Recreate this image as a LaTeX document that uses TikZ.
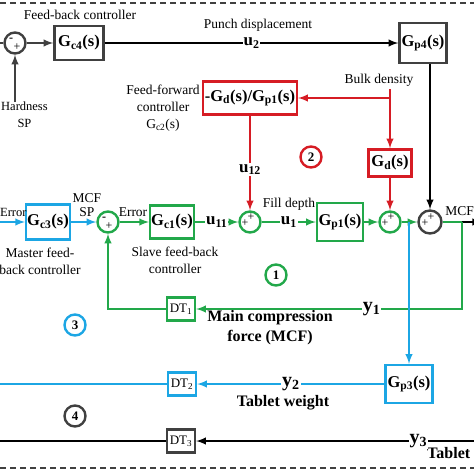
\documentclass[tikz,border=0pt]{standalone}
\usepackage{fontspec}
\setmainfont{Liberation Serif}
\definecolor{fbgreen}{RGB}{34,168,74}
\definecolor{ffred}{RGB}{214,28,36}
\definecolor{wtblue}{RGB}{28,166,228}
\definecolor{dkgray}{RGB}{64,64,64}
\tikzset{
  box/.style = {draw, line width = 2.4pt, inner sep = 1pt, font = \fontsize{16.5}{18}\selectfont\bfseries},
  dtbox/.style = {draw, line width = 2.4pt, minimum width = 28pt, minimum height = 23pt, inner sep = 1pt, font = \fontsize{13}{15}\selectfont},
  sumj/.style = {circle, draw, line width = 2.4pt, minimum size = 21pt, inner sep = 0pt},
  sgn/.style = {inner sep = 0pt, font = \fontsize{12}{12}\selectfont},
  lbl/.style = {align = center, inner sep = 0pt, font = \fontsize{13.5}{17}\selectfont},
  blbl/.style = {align = center, inner sep = 0pt, font = \fontsize{16}{20}\selectfont\bfseries},
  sig/.style = {fill = white, inner sep = 1pt, text = black, font = \fontsize{17}{19}\selectfont\bfseries},
  bigsig/.style = {sig, font = \fontsize{20}{22}\selectfont\bfseries},
  loopno/.style = {circle, draw, line width = 2.4pt, minimum size = 21pt, inner sep = 0pt, text = black, font = \fontsize{13}{13}\selectfont\bfseries},
  flow/.style = {line width = 2.3pt, -latex},
  wire/.style = {line width = 2.3pt}
}
\begin{document}
\begin{tikzpicture}[x = 1pt, y = -1pt]
  \clip (0, 0) rectangle (474, 474);
  \def\rowtop{43}
  \def\rowmain{222}
  \def\rowfb{309}
  \def\rowwt{384}
  \def\rowhd{441}
  % borders
  \foreach \yy in {3, 468}
    \draw[dkgray, line width = 2pt, dash pattern = on 6pt off 4pt] (0, \yy)--(474, \yy);

  % loop 4: tablet hardness
  \node[sumj, draw = dkgray] (s4) at (15, \rowtop) {};
  \node[box, draw = dkgray, minimum width = 49pt, minimum height = 34pt] (gc4) at (79, \rowtop) {G\textsubscript{c4}(s)};
  \node[box, draw = dkgray, minimum width = 47pt, minimum height = 40pt] (gp4) at (423, \rowtop) {G\textsubscript{p4}(s)};
  \node[lbl] (fbtxt) at (80, 15) {Feed-back controller};
  \node[lbl] (punchtxt) at (258, 25) {Punch displacement};
  \node[lbl, anchor = north west, font = \fontsize{12.5}{17}\selectfont] (hsptxt) at (1, 102) {Hardness\\SP};
  \coordinate (hin) at (0, \rowtop);
  \draw[wire, dkgray] (hin)--(s4);
  \draw[flow, dkgray] (s4 |- hsptxt.north)--(s4);
  \draw[flow, dkgray] (s4)--(gc4);
  \draw[flow] (gc4)--(gp4) node[sig, pos = .5] {u\textsubscript{2}};
  \node[sgn] at ([xshift = -4pt, yshift = 3pt]s4.center) {\bfseries -};
  \node[sgn] at ([xshift = 2pt, yshift = -4pt]s4.center) {+};

  % loop 2: feed-forward
  \node[box, draw = ffred, minimum width = 94pt, minimum height = 33pt] (gff) at (250, 98) {-G\textsubscript{d}(s)/G\textsubscript{p1}(s)};
  \node[box, draw = ffred, minimum width = 43pt, minimum height = 27pt] (gd) at (390, 163) {G\textsubscript{d}(s)};
  \node[lbl] (fftxt) at (163, 108) {Feed-forward\\controller\\G\textsubscript{c2}(s)};
  \node[lbl] (bulktxt) at (379, 80) {Bulk density};
  \coordinate (bulk) at (390, 89);
  \node[loopno, draw = ffred] (n2) at (311, 157) {2};

  % main row
  \node[box, draw = wtblue, minimum width = 41pt, minimum height = 35pt] (gc3) at (48, \rowmain) {G\textsubscript{c3}(s)};
  \node[sumj, draw = fbgreen] (s0) at (108, \rowmain) {};
  \node[box, draw = fbgreen, minimum width = 43pt, minimum height = 33pt] (gc1) at (172, \rowmain) {G\textsubscript{c1}(s)};
  \node[sumj, draw = fbgreen] (s1) at (250, \rowmain) {};
  \node[box, draw = fbgreen, minimum width = 46pt, minimum height = 38pt] (gp1) at (340, \rowmain) {G\textsubscript{p1}(s)};
  \node[sumj, draw = fbgreen] (s2) at (390, \rowmain) {};
  \node[sumj, draw = dkgray, minimum size = 23pt] (s5) at (430, \rowmain) {};
  \coordinate (errin) at (0, \rowmain);
  \coordinate (wtap) at (409, \rowmain);
  \coordinate (tap) at (462, \rowmain);
  \coordinate (mcfout) at (482, \rowmain);
  \node[lbl, anchor = west, font = \fontsize{12.5}{14}\selectfont] (err1) at (0, 212) {Error};
  \node[lbl, font = \fontsize{13.5}{14}\selectfont] (mcfsp) at (87, 205) {MCF\\SP};
  \node[lbl] (err2) at (133, 212) {Error};
  \node[lbl] (filltxt) at (289, 204) {Fill depth};
  \node[lbl, anchor = east] (mcftxt) at (474, 211) {MCF};
  \node[lbl] (mastertxt) at (40, 261) {Master feed-\\back controller};
  \node[lbl] (slavetxt) at (175, 260) {Slave feed-back\\controller};

  \draw[flow, ffred] (bulk)--(gd);
  \draw[flow, ffred] (bulk |- gff)--(gff);
  \draw[flow, ffred] (gd)--(s2);
  \draw[flow, ffred] (gff)--(s1) node[sig, pos = .57] {u\textsubscript{12}};

  \draw[flow, wtblue] (errin)--(gc3);
  \draw[flow, wtblue] (gc3)--(s0);
  \draw[flow, fbgreen] (s0)--(gc1);
  \draw[flow, fbgreen] (gc1)--(s1) node[sig, pos = .5] {u\textsubscript{11}};
  \draw[flow, fbgreen] (s1)--(gp1) node[sig, pos = .5] {u\textsubscript{1}};
  \draw[flow, fbgreen] (gp1)--(s2);
  \draw[flow, fbgreen] (s2)--(s5);
  \draw[wire, fbgreen] (s5)--(tap);
  \draw[flow] (tap)--(mcfout);
  \draw[flow] (gp4.south -| s5)--(s5);
  \foreach \s in {s1, s2, s5}{
    \node[sgn] at ([xshift = 1pt, yshift = 5pt]\s.center) {+};
    \node[sgn] at ([xshift = -5pt, yshift = -1pt]\s.center) {+};
  }
  \node[sgn] at ([xshift = -4pt, yshift = 3pt]s0.center) {\bfseries -};
  \node[sgn] at ([xshift = 1pt, yshift = -4pt]s0.center) {+};

  % loop 1: main compression force
  \node[dtbox, draw = fbgreen] (dt1) at (181, \rowfb) {DT\textsubscript{1}};
  \node[loopno, draw = fbgreen] (n1) at (276, 275) {1};
  \node[blbl] (mcfname) at (270, 328) {Main compression\\force (MCF)};
  \draw[flow, fbgreen] (tap) |- (dt1) node[bigsig, pos = .67] {y\textsubscript{1}};
  \draw[flow, fbgreen] (dt1) -| (s0);

  % loop 3: tablet weight
  \node[box, draw = wtblue, minimum width = 47pt, minimum height = 38pt] (gp3) at (409, \rowwt) {G\textsubscript{p3}(s)};
  \node[dtbox, draw = wtblue] (dt2) at (182, \rowwt) {DT\textsubscript{2}};
  \node[loopno, draw = wtblue] (n3) at (75, 325) {3};
  \node[blbl] (wttxt) at (283, 403) {Tablet weight};
  \coordinate (wtout) at (0, \rowwt);
  \draw[flow, wtblue] (wtap)--(gp3);
  \draw[flow, wtblue] (gp3)--(dt2) node[bigsig, pos = .5] {y\textsubscript{2}};
  \draw[wire, wtblue] (dt2)--(wtout);

  % loop 4: feedback
  \node[dtbox, draw = dkgray] (dt3) at (181, \rowhd) {DT\textsubscript{3}};
  \node[loopno, draw = dkgray] (n4) at (75, 416) {4};
  \node[blbl, anchor = west] (hdtxt) at (427, 453) {Tablet};
  \coordinate (hdin) at (474, \rowhd);
  \coordinate (hdout) at (0, \rowhd);
  \draw[flow] (hdin)--(dt3) node[bigsig, pos = .2] {y\textsubscript{3}};
  \draw[wire] (dt3)--(hdout);
\end{tikzpicture}
\end{document}
